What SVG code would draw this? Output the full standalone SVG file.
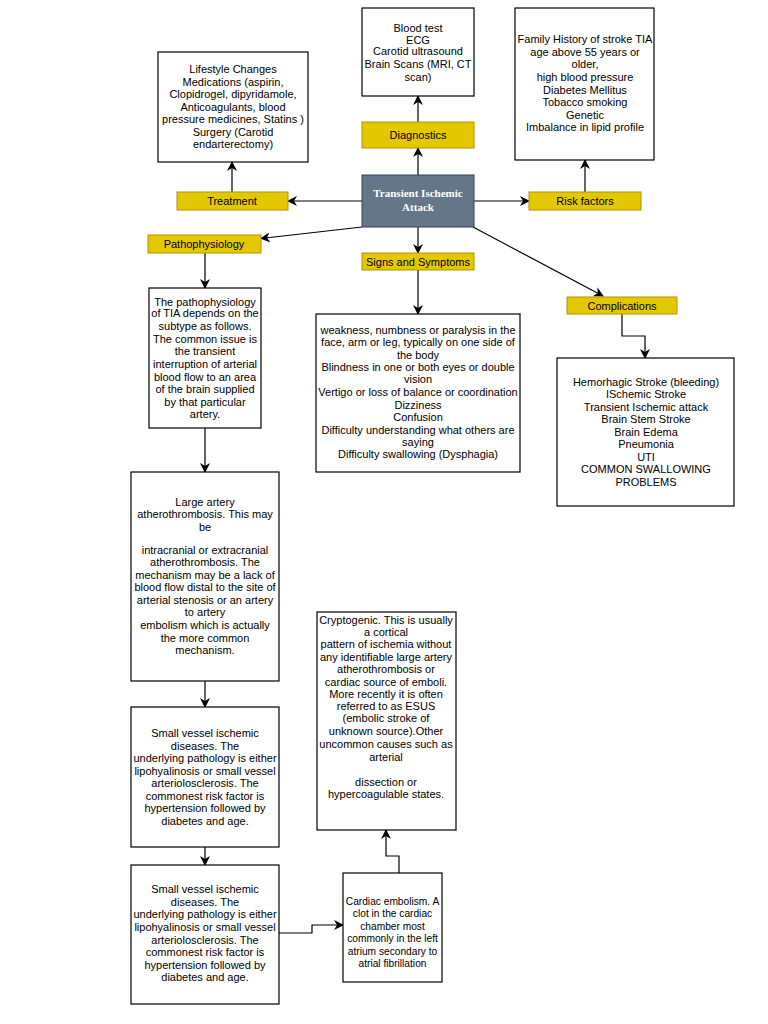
<svg xmlns="http://www.w3.org/2000/svg" width="768" height="1024" viewBox="0 0 768 1024">
<defs>
<marker id="ah" viewBox="0 0 10 10" refX="9" refY="5" markerWidth="10" markerHeight="10" markerUnits="userSpaceOnUse" orient="auto">
<path d="M0,0 L10,5 L0,10 L3,5 Z" fill="#000"/>
</marker>
<style>
.box{fill:#fff;stroke:#000;stroke-width:1.2}
.lbl{fill:#e3c800;stroke:#b09500;stroke-width:1}
.main{fill:#647687;stroke:#314354;stroke-width:1}
text{font-family:"Liberation Sans",Arial,sans-serif;font-size:11px;fill:#000;text-anchor:middle}
.mt{font-family:"Liberation Serif","Times New Roman",serif;font-weight:bold;fill:#fff;font-size:11px}
.sm{font-size:10.2px}
.c{fill:none;stroke:#000;stroke-width:1.2;marker-end:url(#ah)}
</style>
</defs>
<rect width="768" height="1024" fill="#fff"/>
<g id="connectors">
<path class="c" d="M418,175 V148"/>
<path class="c" d="M418,122 V96"/>
<path class="c" d="M362,201 H288"/>
<path class="c" d="M474,201 H529"/>
<path class="c" d="M232,192 V162"/>
<path class="c" d="M585,192 V160"/>
<path class="c" d="M362,227 L261,238.5"/>
<path class="c" d="M418,227 V253"/>
<path class="c" d="M418,270 V314"/>
<path class="c" d="M473,227 L603,296"/>
<path class="c" d="M622,314 V336 H645 V358"/>
<path class="c" d="M205,253 V288"/>
<path class="c" d="M205,428 V472"/>
<path class="c" d="M205,681 V707"/>
<path class="c" d="M205,847 V865"/>
<path class="c" d="M279,933 H312 V925 H343"/>
<path class="c" d="M399,873 V856 H386 V830"/>
</g>
<g id="main">
<rect class="main" x="362" y="175" width="112" height="52"/>
<text class="mt" x="418" y="197">Transient Ischemic</text>
<text class="mt" x="418" y="211">Attack</text>
</g>
<g id="diagnostics">
<rect class="lbl" x="362" y="122" width="112" height="26"/>
<text x="418" y="139">Diagnostics</text>
</g>
<g id="diag-box">
<rect class="box" x="362" y="8" width="112" height="88"/>
<text x="418" y="31.5">Blood test</text>
<text x="418" y="43.5">ECG</text>
<text x="418" y="55">Carotid ultrasound</text>
<text x="418" y="68">Brain Scans (MRI, CT</text>
<text x="418" y="80.5">scan)</text>
</g>
<g id="risk">
<rect class="lbl" x="529" y="192" width="112" height="18"/>
<text x="585" y="205">Risk factors</text>
</g>
<g id="risk-box">
<rect class="box" x="515" y="8" width="139" height="152"/>
<text x="585" y="43">Family History of stroke TIA</text>
<text x="585" y="55.5">age above 55 years or</text>
<text x="585" y="68">older,</text>
<text x="585" y="81">high blood pressure</text>
<text x="585" y="94">Diabetes Mellitus</text>
<text x="585" y="106">Tobacco smoking</text>
<text x="585" y="118.5">Genetic</text>
<text x="585" y="131">Imbalance in lipid profile</text>
</g>
<g id="treatment">
<rect class="lbl" x="177" y="192" width="111" height="18"/>
<text x="232" y="205">Treatment</text>
</g>
<g id="treat-box">
<rect class="box" x="158" y="52" width="150" height="110"/>
<text x="233" y="73">Lifestyle Changes</text>
<text x="233" y="86">Medications (aspirin,</text>
<text x="233" y="98">Clopidrogel, dipyridamole,</text>
<text x="233" y="110.5">Anticoagulants, blood</text>
<text x="233" y="123">pressure medicines, Statins )</text>
<text x="233" y="136">Surgery (Carotid</text>
<text x="233" y="148">endarterectomy)</text>
</g>
<g id="patho">
<rect class="lbl" x="148" y="235" width="113" height="18"/>
<text x="204" y="248">Pathophysiology</text>
</g>
<g id="patho-box">
<rect class="box" x="149" y="288" width="112" height="140"/>
<text x="205" y="305.5">The pathophysiology</text>
<text x="205" y="317">of TIA depends on the</text>
<text x="205" y="329.5">subtype as follows.</text>
<text x="205" y="343">The common issue is</text>
<text x="205" y="355">the transient</text>
<text x="205" y="368">interruption of arterial</text>
<text x="205" y="381">blood flow to an area</text>
<text x="205" y="392.5">of the brain supplied</text>
<text x="205" y="405.5">by that particular</text>
<text x="205" y="418">artery.</text>
</g>
<g id="signs">
<rect class="lbl" x="362" y="253" width="112" height="17"/>
<text x="418" y="265.5">Signs and Symptoms</text>
</g>
<g id="signs-box">
<rect class="box" x="316" y="314" width="204" height="158"/>
<text x="418" y="334">weakness, numbness or paralysis in the</text>
<text x="418" y="346">face, arm or leg, typically on one side of</text>
<text x="418" y="359">the body</text>
<text x="418" y="371">Blindness in one or both eyes or double</text>
<text x="418" y="383">vision</text>
<text x="418" y="396">Vertigo or loss of balance or coordination</text>
<text x="418" y="409">Dizziness</text>
<text x="418" y="421">Confusion</text>
<text x="418" y="434">Difficulty understanding what others are</text>
<text x="418" y="446">saying</text>
<text x="418" y="458">Difficulty swallowing (Dysphagia)</text>
</g>
<g id="complications">
<rect class="lbl" x="567" y="297" width="110" height="17"/>
<text x="622" y="309.5">Complications</text>
</g>
<g id="comp-box">
<rect class="box" x="557" y="358" width="177" height="148"/>
<text x="646" y="385.5">Hemorhagic Stroke (bleeding)</text>
<text x="646" y="398">ISchemic Stroke</text>
<text x="646" y="410.5">Transient Ischemic attack</text>
<text x="646" y="423">Brain Stem Stroke</text>
<text x="646" y="435.5">Brain Edema</text>
<text x="646" y="448">Pneumonia</text>
<text x="646" y="460.5">UTI</text>
<text x="646" y="473">COMMON SWALLOWING</text>
<text x="646" y="485.5">PROBLEMS</text>
</g>
<g id="large-artery">
<rect class="box" x="131" y="472" width="148" height="209"/>
<text x="205" y="505.5">Large artery</text>
<text x="205" y="518">atherothrombosis. This may</text>
<text x="205" y="530.5">be</text>
<text x="205" y="554">intracranial or extracranial</text>
<text x="205" y="566">atherothrombosis. The</text>
<text x="205" y="578.5">mechanism may be a lack of</text>
<text x="205" y="591">blood flow distal to the site of</text>
<text x="205" y="603.5">arterial stenosis or an artery</text>
<text x="205" y="616">to artery</text>
<text x="205" y="629">embolism which is actually</text>
<text x="205" y="641.5">the more common</text>
<text x="205" y="654">mechanism.</text>
</g>
<g id="small-vessel-1">
<rect class="box" x="131" y="707" width="148" height="140"/>
<text x="205" y="737">Small vessel ischemic</text>
<text x="205" y="749.5">diseases. The</text>
<text x="205" y="762">underlying pathology is either</text>
<text x="205" y="774.5">lipohyalinosis or small vessel</text>
<text x="205" y="787">arteriolosclerosis. The</text>
<text x="205" y="800">commonest risk factor is</text>
<text x="205" y="812">hypertension followed by</text>
<text x="205" y="825">diabetes and age.</text>
</g>
<g id="small-vessel-2">
<rect class="box" x="131" y="865" width="148" height="139"/>
<text x="205" y="893">Small vessel ischemic</text>
<text x="205" y="905.5">diseases. The</text>
<text x="205" y="918">underlying pathology is either</text>
<text x="205" y="931">lipohyalinosis or small vessel</text>
<text x="205" y="944">arteriolosclerosis. The</text>
<text x="205" y="956">commonest risk factor is</text>
<text x="205" y="969">hypertension followed by</text>
<text x="205" y="981">diabetes and age.</text>
</g>
<g id="cardiac">
<rect class="box" x="343" y="873" width="99" height="109"/>
<text class="sm" x="392.5" y="904.5">Cardiac embolism. A</text>
<text class="sm" x="392.5" y="917">clot in the cardiac</text>
<text class="sm" x="392.5" y="929.5">chamber most</text>
<text class="sm" x="392.5" y="942">commonly in the left</text>
<text class="sm" x="392.5" y="954.5">atrium secondary to</text>
<text class="sm" x="392.5" y="967">atrial fibrillation</text>
</g>
<g id="cryptogenic">
<rect class="box" x="317" y="612" width="139" height="218"/>
<text x="386" y="624">Cryptogenic. This is usually</text>
<text x="386" y="635.5">a cortical</text>
<text x="386" y="648">pattern of ischemia without</text>
<text x="386" y="660.5">any identifiable large artery</text>
<text x="386" y="673">atherothrombosis or</text>
<text x="386" y="685.5">cardiac source of emboli.</text>
<text x="386" y="698">More recently it is often</text>
<text x="386" y="710">referred to as ESUS</text>
<text x="386" y="722">(embolic stroke of</text>
<text x="386" y="735">unknown source).Other</text>
<text x="386" y="748">uncommon causes such as</text>
<text x="386" y="760.5">arterial</text>
<text x="386" y="785.5">dissection or</text>
<text x="386" y="798">hypercoagulable states.</text>
</g>
</svg>
